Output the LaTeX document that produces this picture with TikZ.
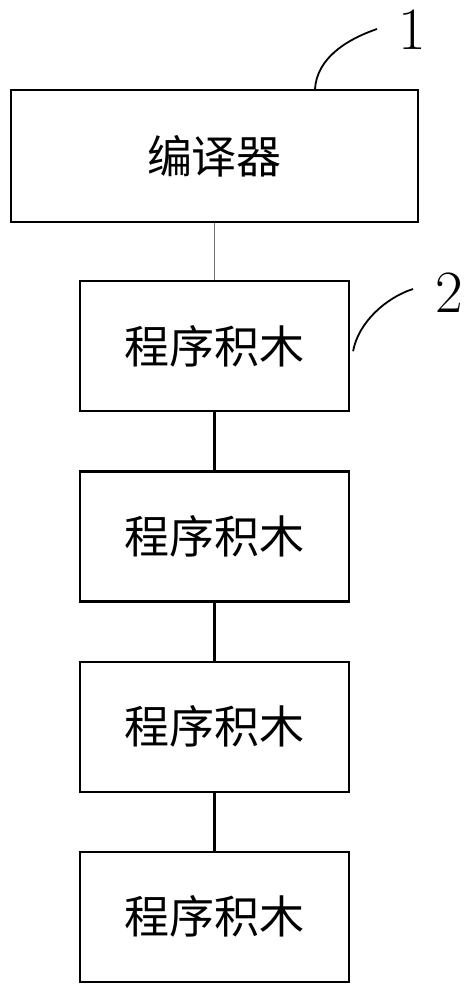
\documentclass[tikz,border=0pt]{standalone}
\usepackage{fontspec}
\newfontfamily\cjk{Noto Sans CJK SC}
\usetikzlibrary{positioning}

\tikzset{
    blockbox/.style={draw, line width=1.1pt, align=center, inner sep=0pt,
        font=\cjk\fontsize{22.5pt}{27pt}\selectfont},
    compilerbox/.style={blockbox, minimum width=203.5pt, minimum height=66pt},
    brickbox/.style={blockbox, minimum width=134.5pt, minimum height=65pt},
    refnum/.style={font=\fontsize{30pt}{36pt}\selectfont},
    leader/.style={line width=0.9pt},
    link/.style={line width=1.1pt}
}

\begin{document}
\begin{tikzpicture}[x=0.5pt, y=-0.5pt, node distance=29pt]
\useasboundingbox (0,0) rectangle (474,987);

% === Compilador ===
\node[compilerbox] (compiler) at (214.5,156) {编译器};

% === Bloques de programa ===
\node[brickbox, below=28.5pt of compiler] (brick1) {程序积木};
\node[brickbox, below=of brick1] (brick2) {程序积木};
\node[brickbox, below=of brick2] (brick3) {程序积木};
\node[brickbox, below=of brick3] (brick4) {程序积木};

% Conexiones
\draw[line width=0.5pt, black!55] (compiler) -- (brick1);
\draw[link] (brick1) -- (brick2);
\draw[link] (brick2) -- (brick3);
\draw[link] (brick3) -- (brick4);

% === Referencias ===
\node[refnum] (num1) at (412,30) {1};
\node[refnum] (num2) at (449,293) {2};
\coordinate (lead1) at (377,29);
\coordinate (lead2) at (413,289);

\draw[leader] ([xshift=50.25pt]compiler.north) .. controls ++(2,-30) and (345,40) .. (lead1);
\draw[leader] ([shift={(3,5)}]brick1.east) .. controls ++(5,-28) and (385,298) .. (lead2);

\end{tikzpicture}
\end{document}
